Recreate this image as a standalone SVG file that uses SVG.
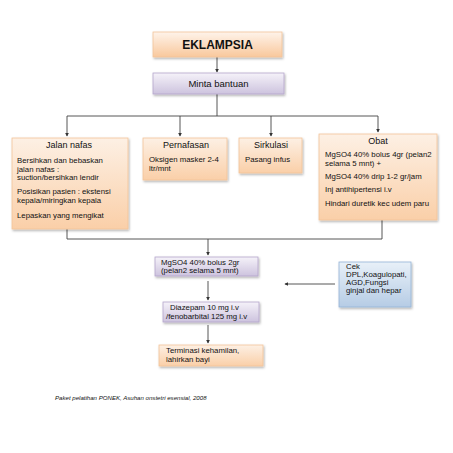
<svg xmlns="http://www.w3.org/2000/svg" width="453" height="453" viewBox="0 0 453 453">
<defs>
<linearGradient id="gO" x1="0" y1="0" x2="0" y2="1"><stop offset="0" stop-color="#fef3ea"/><stop offset="1" stop-color="#f9c89c"/></linearGradient>
<linearGradient id="gO2" x1="0" y1="0" x2="0" y2="1"><stop offset="0" stop-color="#fdf0e4"/><stop offset="1" stop-color="#facfa8"/></linearGradient>
<linearGradient id="gP" x1="0" y1="0" x2="0" y2="1"><stop offset="0" stop-color="#f5f2f9"/><stop offset="1" stop-color="#cdc3de"/></linearGradient>
<linearGradient id="gB" x1="0" y1="0" x2="0" y2="1"><stop offset="0" stop-color="#e8f0f8"/><stop offset="1" stop-color="#b6cce5"/></linearGradient>
<filter id="sh" x="-10%" y="-10%" width="125%" height="135%"><feDropShadow dx="1" dy="1.5" stdDeviation="1" flood-color="#000" flood-opacity="0.3"/></filter>
<marker id="ar" viewBox="0 0 6 6" refX="5" refY="3" markerWidth="4" markerHeight="4" orient="auto"><path d="M0,0 L6,3 L0,6 z" fill="#333"/></marker>
</defs>
<style>
rect{filter:url(#sh)}
.o{fill:url(#gO2);stroke:#f3c49a;stroke-width:0.8}
.oe{fill:url(#gO);stroke:#f3c49a;stroke-width:0.8}
.p{fill:url(#gP);stroke:#b4a6cb;stroke-width:0.8}
.b{fill:url(#gB);stroke:#95b3d7;stroke-width:0.8}
text{font-family:"Liberation Sans",Arial,sans-serif;fill:#111}
.h{font-size:9px;text-anchor:middle}
.t{font-size:7.8px}
.c line,.c path{stroke:#444;stroke-width:0.9;fill:none}
</style>
<rect width="453" height="453" fill="#fff" style="filter:none"/>
<g class="c" id="connectors">
<line x1="217" y1="57" x2="217" y2="72" marker-end="url(#ar)"/>
<line x1="217" y1="94" x2="217" y2="116"/>
<line x1="67" y1="116" x2="378" y2="116"/>
<line x1="67" y1="116" x2="67" y2="136" marker-end="url(#ar)"/>
<line x1="180" y1="116" x2="180" y2="136" marker-end="url(#ar)"/>
<line x1="271" y1="116" x2="271" y2="136" marker-end="url(#ar)"/>
<line x1="378" y1="116" x2="378" y2="132" marker-end="url(#ar)"/>
<path d="M67,229 V239 H382 V220"/>
<line x1="208" y1="239" x2="208" y2="255" marker-end="url(#ar)"/>
<line x1="208" y1="281" x2="208" y2="300" marker-end="url(#ar)"/>
<line x1="208" y1="325" x2="208" y2="343" marker-end="url(#ar)"/>
<line x1="335" y1="284" x2="285" y2="284" marker-end="url(#ar)"/>
</g>
<g id="eklampsia"><rect class="oe" x="153" y="32" width="129" height="25"/><text x="217.5" y="49" text-anchor="middle" font-size="12" font-weight="bold">EKLAMPSIA</text></g>
<g id="minta"><rect class="p" x="153" y="73" width="131" height="21"/><text class="h" x="218.5" y="86.5" style="font-size:9.5px">Minta bantuan</text></g>
<g id="jalan"><rect class="o" x="12" y="138" width="116" height="91"/>
<text class="h" x="69" y="148">Jalan nafas</text>
<text class="t" x="17" y="163">Bersihkan dan bebaskan</text>
<text class="t" x="17" y="171.5">jalan nafas :</text>
<text class="t" x="17" y="180">suction/bersihkan lendir</text>
<text class="t" x="17" y="194">Posisikan pasien : ekstensi</text>
<text class="t" x="17" y="203">kepala/miringkan kepala</text>
<text class="t" x="17" y="218">Lepaskan yang mengikat</text></g>
<g id="pernafasan"><rect class="o" x="143" y="138" width="84" height="42"/>
<text class="h" x="186" y="148">Pernafasan</text>
<text class="t" x="149" y="162">Oksigen masker 2-4</text>
<text class="t" x="149" y="170.5">ltr/mnt</text></g>
<g id="sirkulasi"><rect class="o" x="239" y="138" width="63" height="35"/>
<text class="h" x="271" y="147.5">Sirkulasi</text>
<text class="t" x="245" y="162">Pasang infus</text></g>
<g id="obat"><rect class="o" x="319" y="134" width="118" height="86"/>
<text class="h" x="378" y="143.5">Obat</text>
<text class="t" x="325" y="157">MgSO4 40% bolus 4gr (pelan2</text>
<text class="t" x="325" y="165.5">selama 5 mnt) +</text>
<text class="t" x="325" y="179">MgSO4 40% drip 1-2 gr/jam</text>
<text class="t" x="325" y="192">Inj antihipertensi i.v</text>
<text class="t" x="325" y="206">Hindari duretik kec udem paru</text></g>
<g id="mgso4"><rect class="p" x="155" y="257" width="103" height="19"/>
<text class="t" x="161" y="264.5">MgSO4 40% bolus 2gr</text>
<text class="t" x="161" y="273">(pelan2 selama 5 mnt)</text></g>
<g id="diazepam"><rect class="p" x="163" y="302" width="96" height="20"/>
<text class="t" x="170" y="310">Diazepam 10 mg i.v</text>
<text class="t" x="166" y="319">/fenobarbital 125 mg i.v</text></g>
<g id="terminasi"><rect class="o" x="159" y="345" width="104" height="21"/>
<text class="t" x="166" y="353">Terminasi kehamilan,</text>
<text class="t" x="166" y="361.5">lahirkan bayi</text></g>
<g id="cek"><rect class="b" x="339" y="262" width="72" height="45"/>
<text class="t" x="346" y="269">Cek</text>
<text class="t" x="346" y="277">DPL,Koagulopati,</text>
<text class="t" x="346" y="285">AGD,Fungsi</text>
<text class="t" x="346" y="293">ginjal dan hepar</text></g>
<text x="55" y="400" font-size="6.1" font-style="italic">Paket pelatihan PONEK, Asuhan onstetri esensial, 2008</text>
</svg>
